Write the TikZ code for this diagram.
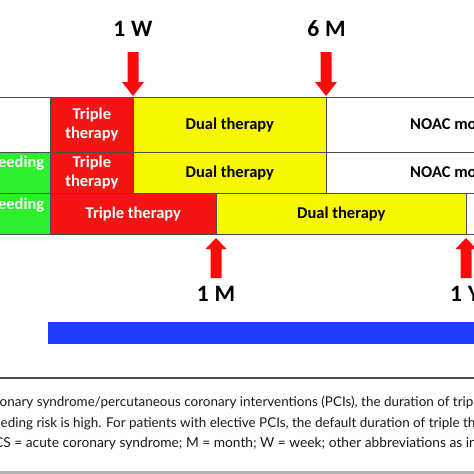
\documentclass[tikz,border=0pt]{standalone}
\usepackage{fontspec}
\newfontfamily\cellfont{Carlito}
\newfontfamily\capfont{Lato}
\definecolor{cellred}{HTML}{F51414}
\definecolor{cellyellow}{HTML}{F7F700}
\definecolor{cellgreen}{HTML}{2EEE2E}
\definecolor{markred}{HTML}{FF0A0A}
\definecolor{barblue}{HTML}{1F3BFF}
\definecolor{gridgrey}{HTML}{4A4F55}
\tikzset{
  cell/.style={draw=gridgrey, line width=0.7pt, inner sep=0pt, anchor=north west,
    align=center, font={\cellfont\bfseries\fontsize{16.5}{19}\selectfont}},
  celltext/.style={inner sep=0pt, font={\cellfont\bfseries\fontsize{16.5}{19}\selectfont}},
  marklabel/.style={inner sep=0pt, font={\cellfont\bfseries\fontsize{23.5}{26}\selectfont}},
  capline/.style={inner sep=0pt, anchor=base west, font={\capfont\fontsize{13.45}{16}\selectfont}, text=black!90},
  downmark/.pic={\fill[markred] (-5.5,-44) -- (5.5,-44) -- (5.5,-14) -- (11,-14) -- (0,0) -- (-11,-14) -- (-5.5,-14) -- cycle;},
  upmark/.pic={\fill[markred] (-5.5,40) -- (5.5,40) -- (5.5,11) -- (10.5,11) -- (0,0) -- (-10.5,11) -- (-5.5,11) -- cycle;}
}
\begin{document}
\begin{tikzpicture}[x=1pt,y=-1pt]
\useasboundingbox (0,0) rectangle (474,474);
\clip (0,0) rectangle (474,474);
\fill[white] (0,0) rectangle (474,474);

% row 1
\node[cell, fill=white, minimum width=60pt, minimum height=55pt] (r1a) at (-10,97) {};
\node[cell, fill=cellred, text=white, minimum width=83pt, minimum height=55pt] (r1b) at (50,97) {Triple\\therapy};
\node[cell, fill=cellyellow, text=black, minimum width=193pt, minimum height=55pt] (r1c) at (133,97) {Dual therapy};
\node[cell, fill=white, minimum width=300pt, minimum height=55pt] (r1d) at (326,97) {};
\node[celltext, anchor=west] (t1d) at (410,124.5) {NOAC mo};

% row 2
\node[cell, fill=cellgreen, minimum width=160pt, minimum height=41pt] (r2a) at (-110,152) {};
\node[celltext, text=white, anchor=east] (t2a) at (44.5,163) {eeding};
\node[cell, fill=cellred, text=white, minimum width=83pt, minimum height=41pt] (r2b) at (50,152) {Triple\\therapy};
\node[cell, fill=cellyellow, text=black, minimum width=193pt, minimum height=41pt] (r2c) at (133,152) {Dual therapy};
\node[cell, fill=white, minimum width=300pt, minimum height=41pt] (r2d) at (326,152) {};
\node[celltext, anchor=west] (t2d) at (410,172.5) {NOAC mo};

% row 3
\node[cell, fill=cellgreen, minimum width=160pt, minimum height=41pt] (r3a) at (-110,193) {};
\node[celltext, text=white, anchor=east] (t3a) at (44.5,205) {eeding};
\node[cell, fill=cellred, text=white, minimum width=166pt, minimum height=41pt] (r3b) at (50,193) {Triple therapy};
\node[cell, fill=cellyellow, text=black, minimum width=250pt, minimum height=41pt] (r3c) at (216,193) {Dual therapy};
\node[cell, fill=white, minimum width=100pt, minimum height=41pt] (r3d) at (466,193) {};

% time markers
\pic at (133,96) {downmark};
\pic at (326,96) {downmark};
\node[marklabel] (l1w) at (133,29) {1\hspace{0.25em}W};
\node[marklabel] (l6m) at (326.5,29) {6\hspace{0.25em}M};
\pic at (216,238) {upmark};
\pic at (466,238) {upmark};
\node[marklabel] (l1m) at (216,294) {1\hspace{0.25em}M};
\node[marklabel, anchor=west] (l1y) at (450,294) {1\hspace{0.25em}Y};

% blue bar
\fill[barblue] (48,322) rectangle (480,344);

% caption
\draw[gridgrey, line width=1.2pt] (0,378) -- (474,378);
\node[capline] (c1) at (-0.5,406.5) {onary syndrome/percutaneous coronary interventions (PCIs), the duration of trip};
\node[capline] (c2) at (0.5,427) {eding risk is high. For patients with elective PCIs, the default duration of triple th};
\node[capline, font={\capfont\fontsize{13.75}{16}\selectfont}] (c3) at (-6,447.5) {CS = acute coronary syndrome; M = month; W = week; other abbreviations as in};
\fill[black!30] (0,471) rectangle (474,474);
\end{tikzpicture}
\end{document}
